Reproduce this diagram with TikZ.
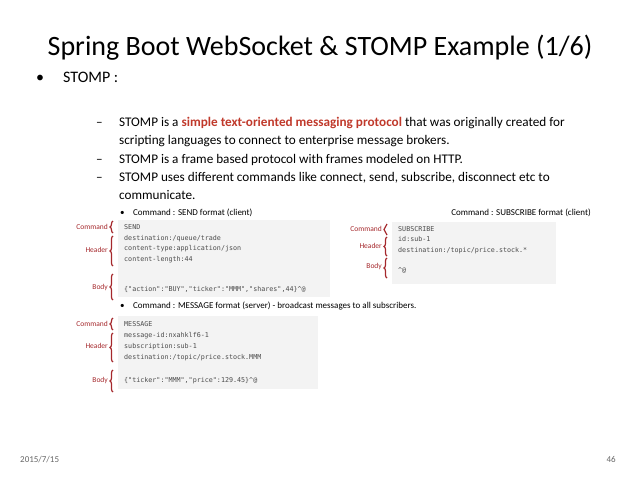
\documentclass[tikz,border=0pt]{standalone}
\usepackage{fontspec}
\setmainfont{Carlito}
\setmonofont{DejaVu Sans Mono}
\usetikzlibrary{decorations.pathreplacing}
\definecolor{lab}{HTML}{A5282C}
\definecolor{hl}{HTML}{C0392B}
\definecolor{codebg}{HTML}{F3F3F3}
\begin{document}
\begin{tikzpicture}[x=1pt,y=-1pt,
  txt/.style={anchor=base west,inner sep=0pt,font=\fontsize{13.2}{15}\selectfont},
  small/.style={anchor=base west,inner sep=0pt,font=\fontsize{9}{10}\selectfont},
  code/.style={anchor=west,inner sep=0pt,font=\ttfamily\fontsize{6.7}{7}\selectfont,text=black!70},
  lbl/.style={anchor=east,inner sep=0pt,text=lab,font=\fontsize{7.5}{8}\selectfont},
  cbox/.style={fill=codebg,draw=none},
  br/.style={draw=lab,line width=1.2pt,decorate,decoration={brace,amplitude=3pt}}]
\useasboundingbox (0,0) rectangle (638,479);
\node[inner sep=0pt,font=\fontsize{28}{32}\selectfont] (title) at (320,48) {Spring Boot WebSocket \& STOMP Example (1/6)};
\node[txt,font=\fontsize{16}{18}\selectfont] (b1) at (36,82) {•};
\node[txt,font=\fontsize{16}{18}\selectfont] (s1) at (63,82) {STOMP :};
\node[txt] (d1) at (96,126) {–};
\node[txt] (t1) at (119,126) {STOMP is a \textcolor{hl}{\textbf{simple text-oriented messaging protocol}} that was originally created for};
\node[txt] (t1b) at (119,144) {scripting languages to connect to enterprise message brokers.};
\node[txt] (d2) at (96,163) {–};
\node[txt] (t2) at (119,163) {STOMP is a frame based protocol with frames modeled on HTTP.};
\node[txt] (d3) at (96,181) {–};
\node[txt] (t3) at (119,181) {STOMP uses different commands like connect, send, subscribe, disconnect etc to};
\node[txt] (t3b) at (119,199) {communicate.};
% SEND
\node[small] (b2) at (120,215) {•};
\node[small] (c1) at (133,215) {Command : SEND format (client)};
\node[small,anchor=base east] (c2) at (591,215) {Command : SUBSCRIBE format (client)};
\fill[cbox] (118,220) rectangle (330,297);
\node[code] (s1a) at (124,227) {SEND};
\node[code] (s1b) at (124,239) {destination:/queue/trade};
\node[code] (s1c) at (124,249) {content-type:application/json};
\node[code] (s1d) at (124,260) {content-length:44};
\node[code] (s1e) at (124,289) {\{"action":"BUY","ticker":"MMM","shares",44\}\textasciicircum @};
\node[lbl] (l1a) at (108,227) {Command};
\node[lbl] (l1b) at (108,250) {Header};
\node[lbl] (l1c) at (108,287) {Body};
\draw[br] (113,233) -- (113,221);
\draw[br] (113,266) -- (113,236);
\draw[br] (113,300) -- (113,274);
% SUBSCRIBE
\fill[cbox] (392,222) rectangle (556,284);
\node[code] (s2a) at (398,229) {SUBSCRIBE};
\node[code] (s2b) at (398,239) {id:sub-1};
\node[code] (s2c) at (398,251) {destination:/topic/price.stock.*};
\node[code] (s2d) at (398,271) {\textasciicircum @};
\node[lbl] (l2a) at (382,229) {Command};
\node[lbl] (l2b) at (382,246) {Header};
\node[lbl] (l2c) at (382,266) {Body};
\draw[br] (387,235) -- (387,224);
\draw[br] (387,256) -- (387,237);
\draw[br] (387,278) -- (387,258);
% MESSAGE
\node[small] (b3) at (120,308) {•};
\node[small] (c3) at (133,308) {Command : MESSAGE format (server) - broadcast messages to all subscribers.};
\fill[cbox] (118,316) rectangle (318,389);
\node[code] (s3a) at (124,324) {MESSAGE};
\node[code] (s3b) at (124,336) {message-id:nxahklf6-1};
\node[code] (s3c) at (124,347) {subscription:sub-1};
\node[code] (s3d) at (124,358) {destination:/topic/price.stock.MMM};
\node[code] (s3e) at (124,381) {\{"ticker":"MMM","price":129.45\}\textasciicircum @};
\node[lbl] (l3a) at (108,324) {Command};
\node[lbl] (l3b) at (108,346) {Header};
\node[lbl] (l3c) at (108,380) {Body};
\draw[br] (113,330) -- (113,318);
\draw[br] (113,362) -- (113,333);
\draw[br] (113,392) -- (113,370);
% footer
\node[anchor=base west,inner sep=0pt,text=black!60,font=\fontsize{9}{10}\selectfont] (f1) at (20,462) {2015/7/15};
\node[anchor=base east,inner sep=0pt,text=black!60,font=\fontsize{9}{10}\selectfont] (f2) at (616,462) {46};
\end{tikzpicture}
\end{document}
